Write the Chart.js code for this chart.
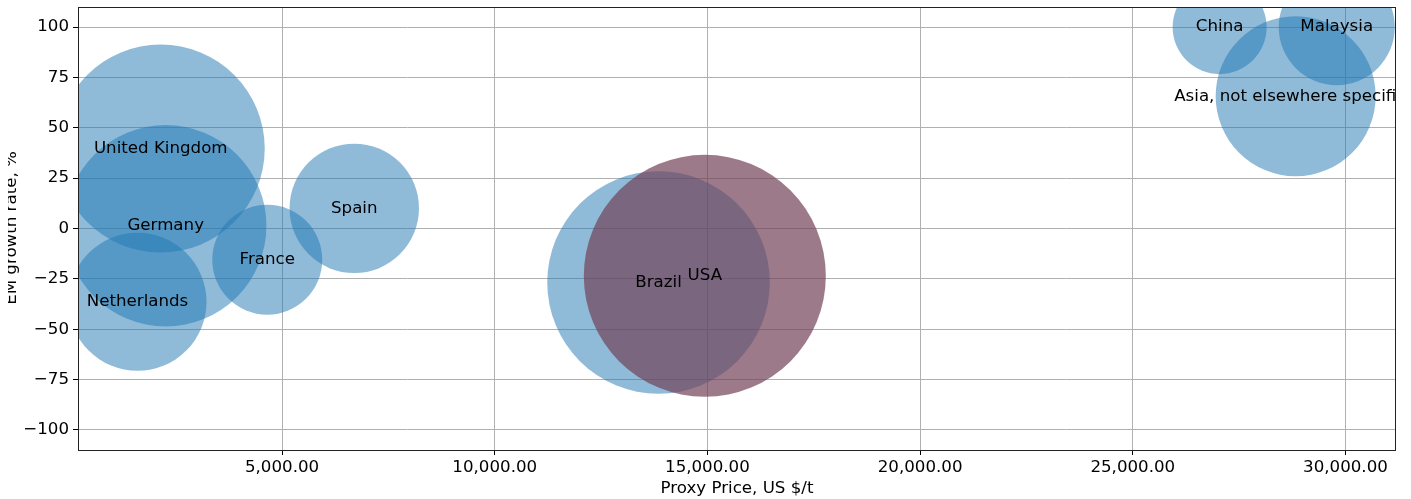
<!DOCTYPE html>
<html>
<head>
<meta charset="utf-8">
<script src="https://cdn.jsdelivr.net/npm/chart.js@4"></script>
<style>
  html, body { margin: 0; padding: 0; background: #fff; overflow: hidden; }
  #bubbleChart { display: block; }
</style>
</head>
<body>
<canvas id="bubbleChart" width="1411" height="499"></canvas>
<script>
// data
const countries = ["United Kingdom", "Germany", "Netherlands", "France", "Spain", "Brazil", "China", "Malaysia", "Asia, not elsewhere specified"];
const proxyPrice = [2148, 2265, 1602, 4652, 6698, 13851, 27042, 29795, 28829];
const emGrowth = [39.7, 1.4, -36.4, -15.5, 10.0, -26.8, 100, 100, 65.7];
const bubbleSize = [104, 100.7, 69, 55, 64.7, 111.3, 47, 58, 80];

const usaLabel = ["USA"];
const usaPrice = [14939];
const usaGrowth = [-23.5];
const usaSize = [121];

const xTicks = [5000, 10000, 15000, 20000, 25000, 30000];
const yTicks = [-100, -75, -50, -25, 0, 25, 50, 75, 100];

const FONT = "'DejaVu Sans', sans-serif";
const FSIZE = 16.67;

function toPoints(xs, ys, rs) {
  return xs.map((x, i) => ({ x: x, y: ys[i], r: rs[i] }));
}

// names on top of the bubbles, clipped to the plot box, plus frame and axis titles
const bubbleLabels = {
  id: "bubbleLabels",
  afterDraw(chart) {
    const { ctx, chartArea } = chart;
    ctx.save();
    ctx.beginPath();
    ctx.rect(chartArea.left, chartArea.top, chartArea.right - chartArea.left, chartArea.bottom - chartArea.top);
    ctx.clip();
    ctx.font = FSIZE + "px " + FONT;
    ctx.fillStyle = "#000";
    ctx.textAlign = "center";
    ctx.textBaseline = "middle";
    chart.data.datasets.forEach((ds, di) => {
      const meta = chart.getDatasetMeta(di);
      meta.data.forEach((pt, i) => {
        ctx.fillText(ds.names[i], pt.x, pt.y);
      });
    });
    ctx.restore();

    // frame round the plot
    ctx.save();
    ctx.strokeStyle = "#222";
    ctx.lineWidth = 1;
    ctx.strokeRect(chartArea.left + 0.5, chartArea.top + 0.5, chartArea.right - chartArea.left - 1, chartArea.bottom - chartArea.top);
    ctx.restore();

    // x title
    ctx.save();
    ctx.font = FSIZE + "px " + FONT;
    ctx.fillStyle = "#000";
    ctx.textAlign = "center";
    ctx.textBaseline = "alphabetic";
    ctx.fillText("Proxy Price, US $/t", (chartArea.left + chartArea.right) / 2, 493);
    ctx.restore();

    // y title, mostly cut off at the left edge like the original
    ctx.save();
    ctx.beginPath();
    ctx.rect(8, 0, 100, chart.height);
    ctx.clip();
    ctx.translate(16, 228);
    ctx.rotate(-Math.PI / 2);
    ctx.font = FSIZE + "px " + FONT;
    ctx.fillStyle = "#000";
    ctx.textAlign = "center";
    ctx.textBaseline = "alphabetic";
    ctx.fillText("EM growth rate, %", 0, 0);
    ctx.restore();
  }
};

const ctx = document.getElementById("bubbleChart").getContext("2d");
const bubbleChart = new Chart(ctx, {
  type: "bubble",
  data: {
    datasets: [
      {
        label: "USA",
        names: usaLabel,
        data: toPoints(usaPrice, usaGrowth, usaSize),
        backgroundColor: "rgba(116, 65, 88, 0.7)",
        borderWidth: 0,
        clip: 0
      },
      {
        label: "Countries",
        names: countries,
        data: toPoints(proxyPrice, emGrowth, bubbleSize),
        backgroundColor: "rgba(31, 119, 180, 0.5)",
        borderWidth: 0,
        clip: 0
      }
    ]
  },
  options: {
    responsive: false,
    animation: false,
    devicePixelRatio: 1,
    layout: { autoPadding: false, padding: { left: 0, right: 15, top: 7, bottom: 0 } },
    plugins: {
      legend: { display: false },
      tooltip: { enabled: false }
    },
    scales: {
      x: {
        type: "linear",
        min: 203,
        max: 31188,
        z: 1,
        afterBuildTicks: (s) => { s.ticks = xTicks.map(v => ({ value: v })); },
        afterFit: (s) => { s.height = 49; s.paddingLeft = 0; s.paddingRight = 0; },
        ticks: {
          autoSkip: false,
          maxRotation: 0,
          padding: 3,
          color: "#000",
          font: { family: FONT, size: FSIZE },
          callback: (v) => Number(v).toLocaleString("en-US", { minimumFractionDigits: 2, maximumFractionDigits: 2 })
        },
        grid: { color: "#b0b0b0", lineWidth: 1, tickColor: "#000", tickLength: 5 },
        border: { display: false }
      },
      y: {
        min: -110,
        max: 110,
        z: 1,
        afterBuildTicks: (s) => { s.ticks = yTicks.map(v => ({ value: v })); },
        afterFit: (s) => { s.width = 78; s.paddingTop = 0; s.paddingBottom = 0; },
        ticks: {
          autoSkip: false,
          padding: 4,
          color: "#000",
          font: { family: FONT, size: FSIZE },
          callback: (v) => v < 0 ? "\u2212" + Math.abs(v) : String(v)
        },
        grid: { color: "#b0b0b0", lineWidth: 1, tickColor: "#000", tickLength: 5 },
        border: { display: false }
      }
    }
  },
  plugins: [bubbleLabels]
});
</script>
</body>
</html>
